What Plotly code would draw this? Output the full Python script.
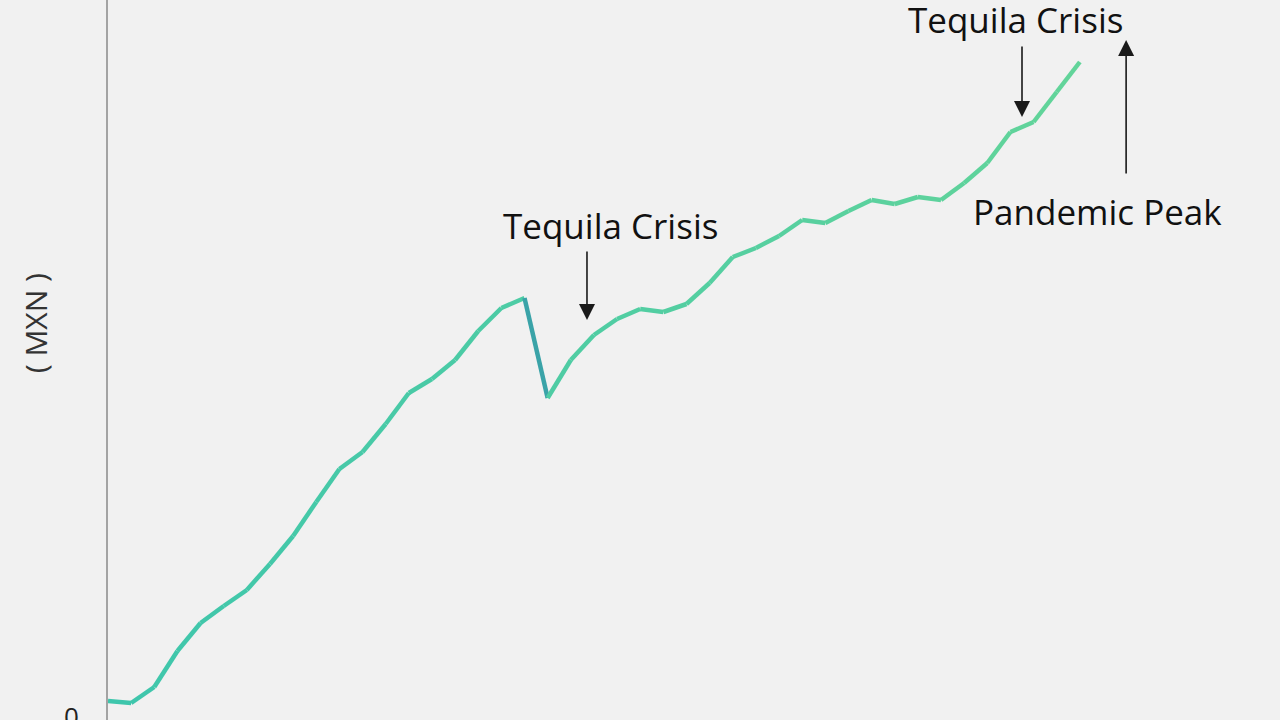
import plotly.graph_objects as go

# ---- data ----
years = list(range(1976, 2019))
values = [0.64, 0.56, 1.20, 2.64, 3.76, 4.44, 5.08, 6.12, 7.24, 8.60,
          9.92, 10.60, 11.72, 12.96, 13.52, 14.28, 15.44, 16.36, 16.76, 12.76,
          14.28, 15.28, 15.92, 16.32, 16.20, 16.52, 17.36, 18.40, 18.76, 19.24,
          19.88, 19.76, 20.24, 20.68, 20.52, 20.80, 20.68, 21.36, 22.16, 23.40,
          23.80, 25.00, 26.20]

y_title = "( MXN )"
y_ticks = [0]
y_ticktext = ["0"]

# events: label text, label position, arrow head position, arrow direction
event_labels = ["Tequila Crisis", "Tequila Crisis", "Pandemic Peak"]
label_years = [1997.7, 2015.2, 2018.75]
label_values = [19.68, 27.9, 20.24]
arrow_years = [1996.7, 2015.5, 2020.0]
arrow_values = [15.88, 24.0, 27.08]
arrow_tail_offsets = [-70, -72, 135]   # pixels (negative = tail above head)

FONT = "Open Sans"
BG = "#f1f1f1"


def hex_to_rgb(h):
    h = h.lstrip("#")
    return tuple(int(h[i:i + 2], 16) for i in (0, 2, 4))


def lerp_color(c1, c2, t):
    a, b = hex_to_rgb(c1), hex_to_rgb(c2)
    r = [round(a[k] + (b[k] - a[k]) * t) for k in range(3)]
    return "rgb({},{},{})".format(*r)


fig = go.Figure()
n = len(years)
start_c, end_c = "#3ec6ac", "#62d49a"
for i in range(n - 1):
    t = i / (n - 2)
    col = lerp_color(start_c, end_c, t)
    if values[i + 1] < values[i] - 1:
        col = "#3aa3a8"
    fig.add_trace(go.Scatter(
        x=years[i:i + 2], y=values[i:i + 2], mode="lines",
        line=dict(color=col, width=4.5),
        showlegend=False, hoverinfo="skip"))

annotations = []
for txt, lx, ly in zip(event_labels, label_years, label_values):
    annotations.append(dict(
        x=lx, y=ly, xref="x", yref="y", text=txt, showarrow=False,
        font=dict(family=FONT, size=35, color="#111111"),
        xanchor="center", yanchor="middle"))
for ax_, ay_, off in zip(arrow_years, arrow_values, arrow_tail_offsets):
    annotations.append(dict(
        x=ax_, y=ay_, xref="x", yref="y", text="", showarrow=True,
        ax=0, ay=off, arrowhead=2, arrowsize=2.0, arrowwidth=1.6,
        arrowcolor="#1a1a1a", standoff=0, startstandoff=0))

annotations.append(dict(
    x=-0.0623, y=0.551, xref="paper", yref="paper", text=y_title,
    textangle=-90, showarrow=False,
    font=dict(family=FONT, size=30, color="#333333"),
    xanchor="center", yanchor="middle"))

fig.update_layout(
    width=1280, height=720,
    margin=dict(l=108, r=0, t=0, b=0, autoexpand=False),
    paper_bgcolor=BG, plot_bgcolor=BG,
    font=dict(family=FONT),
    annotations=annotations,
    xaxis=dict(range=[1976, 2026.65], visible=False, showgrid=False,
               zeroline=False, automargin=False),
    yaxis=dict(range=[-0.12, 28.68], showgrid=False, zeroline=False,
               automargin=False,
               showline=True, linecolor="#a3a3a3", linewidth=2,
               tickvals=y_ticks, ticktext=y_ticktext, ticks="",
               ticklabelstandoff=22, ticklabeloverflow="allow",
               tickfont=dict(family=FONT, size=26, color="#222222")),
)

fig.write_html(
    "out.html",
    config={"displayModeBar": False},
    post_script="document.body.style.margin='0';"
                "document.body.style.background='#f1f1f1';"
                "document.body.style.overflow='hidden';")
